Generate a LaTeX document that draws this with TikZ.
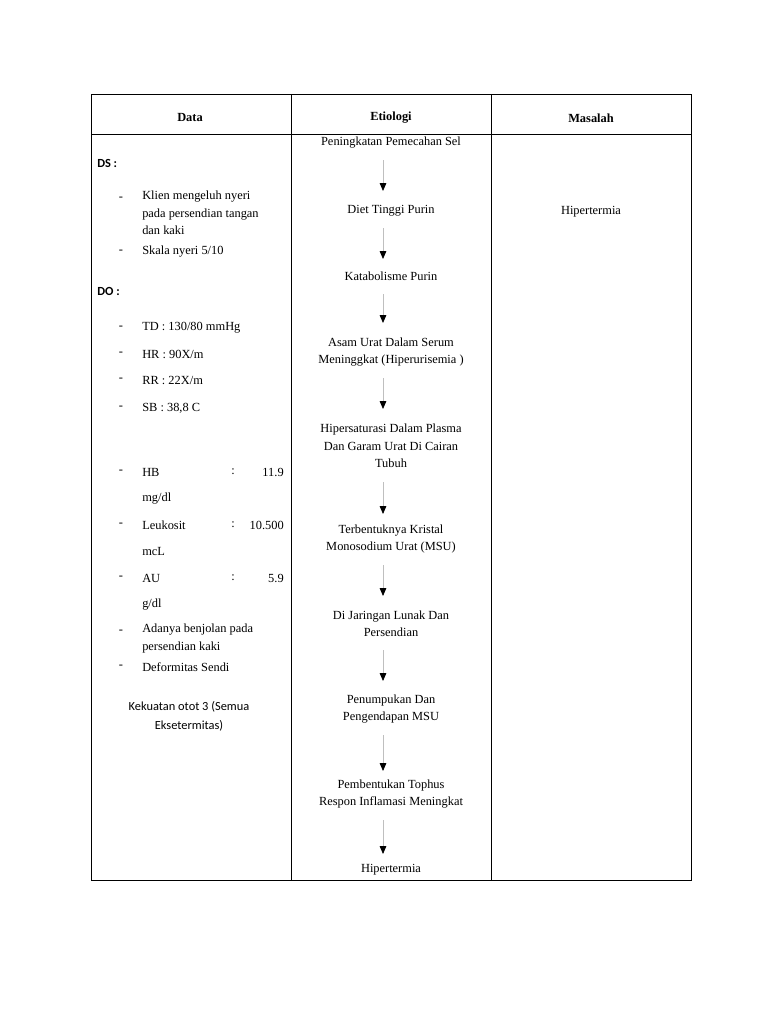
\documentclass[tikz,border=0pt]{standalone}
\usepackage{fontspec}
\setmainfont{Liberation Serif}
\newfontfamily\carfont{Carlito}
\usetikzlibrary{arrows.meta}
\begin{document}
\begin{tikzpicture}[x=0.75pt,y=-0.75pt,
  every node/.style={font=\fontsize{9.3}{13}\selectfont, inner sep=0pt},
  et/.style={align=center},
  dt/.style={anchor=west},
  ds/.style={anchor=west,font=\carfont\fontsize{9.3}{14}\selectfont},
  hd/.style={font=\bfseries\fontsize{9.3}{13}\selectfont},
  flow/.style={draw=black!25,line width=0.6pt,-{Triangle[length=6pt,width=5pt,fill=black,color=black]}}]
\useasboundingbox (0,0) rectangle (768,1024);
\draw[line width=0.6pt] (91,94) rectangle (691,880);
\draw[line width=0.6pt] (91,134) -- (691,134) (291,94) -- (291,880) (491,94) -- (491,880);
\node[hd] (h1) at (190,118) {Data};
\node[hd] (h2) at (391,118) {Etiologi};
\node[hd] (h3) at (591,118) {Masalah};
\node (m1) at (591,212) {Hipertermia};
% etiologi
\node[et] (e1) at (391,143) {Peningkatan Pemecahan Sel};
\node[et] (e2) at (391,211) {Diet Tinggi Purin};
\node[et] (e3) at (391,276) {Katabolisme Purin};
\node[et] (e4) at (391,352) {Asam Urat Dalam Serum\\Meninggkat (Hiperurisemia )};
\node[et] (e5) at (391,446) {Hipersaturasi Dalam Plasma\\Dan Garam Urat Di Cairan\\Tubuh};
\node[et] (e6) at (391,539) {Terbentuknya Kristal\\Monosodium Urat (MSU)};
\node[et] (e7) at (391,624) {Di Jaringan Lunak Dan\\Persendian};
\node[et] (e8) at (391,709) {Penumpukan Dan\\Pengendapan MSU};
\node[et] (e9) at (391,794) {Pembentukan Tophus\\Respon Inflamasi Meningkat};
\node[et] (e10) at (391,870) {Hipertermia};
\foreach \a/\b in {160/191,228/259,294/323,378/409,482/514,565/596,650/681,735/771,820/854}{
  \draw[flow] (383,\a) -- (383,\b);}
% data
\node[ds,font=\carfont\bfseries\fontsize{9.3}{14}\selectfont] (ds) at (97,163) {DS :};
\node[ds,font=\carfont\bfseries\fontsize{9.3}{14}\selectfont] (do) at (97,291) {DO :};
\foreach \y in {199,252,328,354,380,408,472,525,578,632,667}{\node (d\y) at (121,\y) {-};}
\node[dt,align=left,anchor=north west] (t1) at (142,191) {Klien mengeluh nyeri\\pada persendian tangan\\dan kaki};
\node[dt] (t2) at (142,252) {Skala nyeri 5/10};
\node[dt] (t3) at (142,328) {TD : 130/80 mmHg};
\node[dt] (t4) at (142,354) {HR : 90X/m};
\node[dt] (t5) at (142,380) {RR : 22X/m};
\node[dt] (t6) at (142,408) {SB : 38,8 C};
\node[dt] (t7) at (142,472) {HB};
\node (c7) at (233,472) {:};
\node[anchor=east] (v7) at (284,472) {11.9};
\node[dt] (u7) at (142,499) {mg/dl};
\node[dt] (t8) at (142,525) {Leukosit};
\node (c8) at (233,525) {:};
\node[anchor=east] (v8) at (284,525) {10.500};
\node[dt] (u8) at (142,551) {mcL};
\node[dt] (t9) at (142,578) {AU};
\node (c9) at (233,578) {:};
\node[anchor=east] (v9) at (284,578) {5.9};
\node[dt] (u9) at (142,605) {g/dl};
\node[dt,align=left,anchor=north west] (t10) at (142,624) {Adanya benjolan pada\\persendian kaki};
\node[dt] (t11) at (142,667) {Deformitas Sendi};
\node[align=center,font=\carfont\fontsize{9.3}{14}\selectfont] (k) at (189,716) {Kekuatan otot 3 (Semua\\Eksetermitas)};
\end{tikzpicture}
\end{document}
